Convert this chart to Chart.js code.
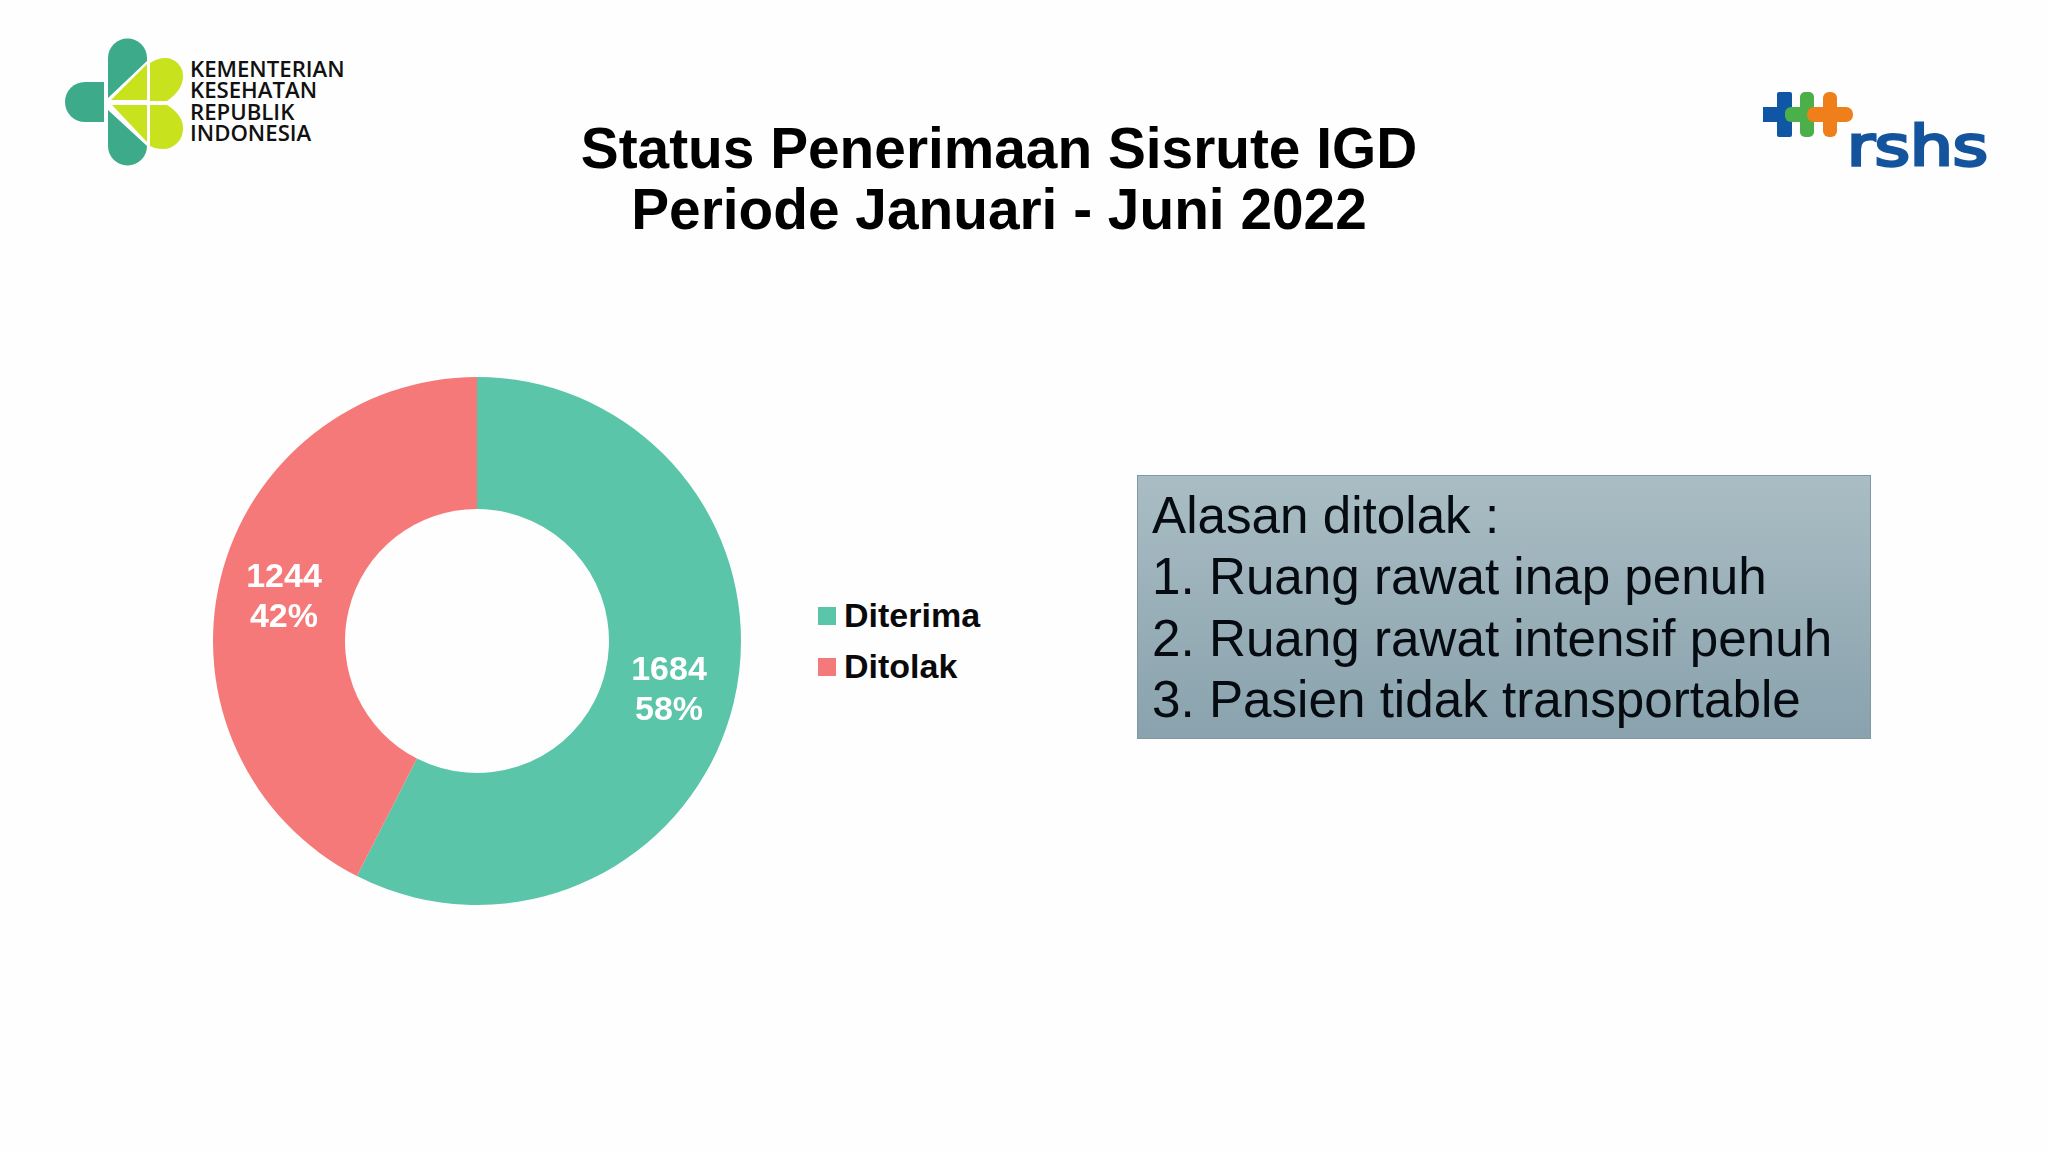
<!DOCTYPE html>
<html lang="id">
<head>
  <meta charset="UTF-8">
  <title>Status Penerimaan Sisrute IGD</title>
  <script src="https://cdn.jsdelivr.net/npm/chart.js"></script>
  <style>
    html, body { margin: 0; padding: 0; }
    body { width: 2048px; height: 1152px; background: #fefefe; font-family: "Liberation Sans", Arial, sans-serif; overflow: hidden; position: relative; }
    #title { position: absolute; left: 0; top: 118px; width: 1998px; margin: 0; text-align: center; font-size: 56.8px; line-height: 61px; font-weight: bold; color: #000; }
    #chart-box { position: absolute; left: 213px; top: 377px; width: 528px; height: 528px; }
    #legend { position: absolute; left: 818px; top: 590px; }
    .item { display: flex; align-items: center; height: 51px; font-size: 34px; font-weight: bold; color: #0a0a0a; }
    .swatch { width: 18px; height: 18px; margin-right: 8px; }
    #reasons { position: absolute; left: 1137px; top: 475px; width: 734px; height: 264px; box-sizing: border-box; padding: 9px 0 0 14px; border: 1px solid #7f98a2; background: linear-gradient(#aabdc4, #89a2ad); font-size: 51.2px; line-height: 61.4px; color: #060b12; white-space: nowrap; }
    #logo-left, #logo-right { position: absolute; left: 0; top: 0; }
    #logo-text { position: absolute; left: 190px; top: 58px; font-family: "Open Sans"; font-weight: 600; font-size: 22.2px; line-height: 21.3px; color: #111; white-space: nowrap; }
  </style>
</head>
<body>
  <svg id="logo-left" width="420" height="200">
    <g fill="#3daa8a">
      <path d="M108 98 L108 58 A19.5 19.5 0 0 1 147 58 L147 61 Z"/>
      <path d="M104 82 L85 82 A20 20 0 0 0 85 122 L104 122 Z"/>
      <path d="M108 110 L147 146 A19.5 19.5 0 0 1 108 146 Z"/>
    </g>
    <g fill="#c8e21e">
      <path d="M111 100 L147 64 L147 100 Z"/>
      <path d="M150 63 Q158 58 165 58 A18 18 0 0 1 183 76 Q183 90 167 101 L150 101 Z"/>
      <path d="M112 105 L147 105 L147 142 Z"/>
      <path d="M150 105 L167 105 Q183 115 183 128 A20 20 0 0 1 163 149 Q155 149 150 146 Z"/>
    </g>
  </svg>
  <div id="logo-text"><div>KEMENTERIAN</div><div>KESEHATAN</div><div>REPUBLIK</div><div>INDONESIA</div></div>
  <svg id="logo-right" width="2048" height="200">
    <g fill="#0f57a5">
      <rect x="1777" y="92" width="15" height="45" rx="2"/>
      <rect x="1763" y="107" width="26" height="15"/>
    </g>
    <g fill="#4cb04a">
      <rect x="1800" y="92" width="14" height="45" rx="5"/>
      <rect x="1785" y="107" width="26" height="15" rx="6"/>
    </g>
    <g fill="#ef7f1a">
      <rect x="1823" y="92" width="14" height="45" rx="6"/>
      <rect x="1807" y="107" width="46" height="15" rx="7"/>
    </g>
    <text x="1847" y="165" font-family="DejaVu Sans" font-size="56" fill="#14549c" stroke="#14549c" stroke-width="3" textLength="141" lengthAdjust="spacingAndGlyphs">rshs</text>
  </svg>

  <h1 id="title"></h1>
  <div id="chart-box"><canvas id="donut" width="528" height="528"></canvas></div>
  <div id="legend"></div>
  <div id="reasons"></div>

  <script>
    const titleLines = ['Status Penerimaan Sisrute IGD', 'Periode Januari - Juni 2022'];
    const categories = ['Diterima', 'Ditolak'];
    const values = [1684, 1244];
    const percents = ['58%', '42%'];
    const colors = ['#5bc5a9', '#f67979'];
    const reasons = ['Alasan ditolak :', '1. Ruang rawat inap penuh', '2. Ruang rawat intensif penuh', '3. Pasien tidak transportable'];

    document.getElementById('title').innerHTML = titleLines.join('<br>');
    document.getElementById('reasons').innerHTML = reasons.join('<br>');

    // value + percent drawn in the middle of each slice
    const sliceLabels = {
      id: 'sliceLabels',
      afterDatasetsDraw(chart) {
        const ctx = chart.ctx;
        ctx.save();
        ctx.fillStyle = '#fff';
        ctx.font = 'bold 34px "Liberation Sans"';
        ctx.textAlign = 'center';
        ctx.textBaseline = 'middle';
        chart.getDatasetMeta(0).data.forEach((arc, i) => {
          const p = arc.getCenterPoint();
          ctx.fillText(values[i], p.x - 0.5, p.y - 17);
          ctx.fillText(percents[i], p.x - 0.5, p.y + 23);
        });
        ctx.restore();
      }
    };

    const chart = new Chart(document.getElementById('donut'), {
      type: 'doughnut',
      data: {
        labels: categories,
        datasets: [{ data: values, backgroundColor: colors, borderWidth: 0 }]
      },
      options: {
        responsive: false,
        animation: false,
        cutout: '50%',
        layout: { padding: 0 },
        plugins: { legend: { display: false }, tooltip: { enabled: false } }
      },
      plugins: [sliceLabels]
    });

    // legend sits apart from the canvas, the gap to the text is tighter than the built-in one
    document.getElementById('legend').innerHTML = chart.data.labels.map((label, i) =>
      `<div class="item"><span class="swatch" style="background:${colors[i]}"></span>${label}</div>`
    ).join('');
  </script>
</body>
</html>
